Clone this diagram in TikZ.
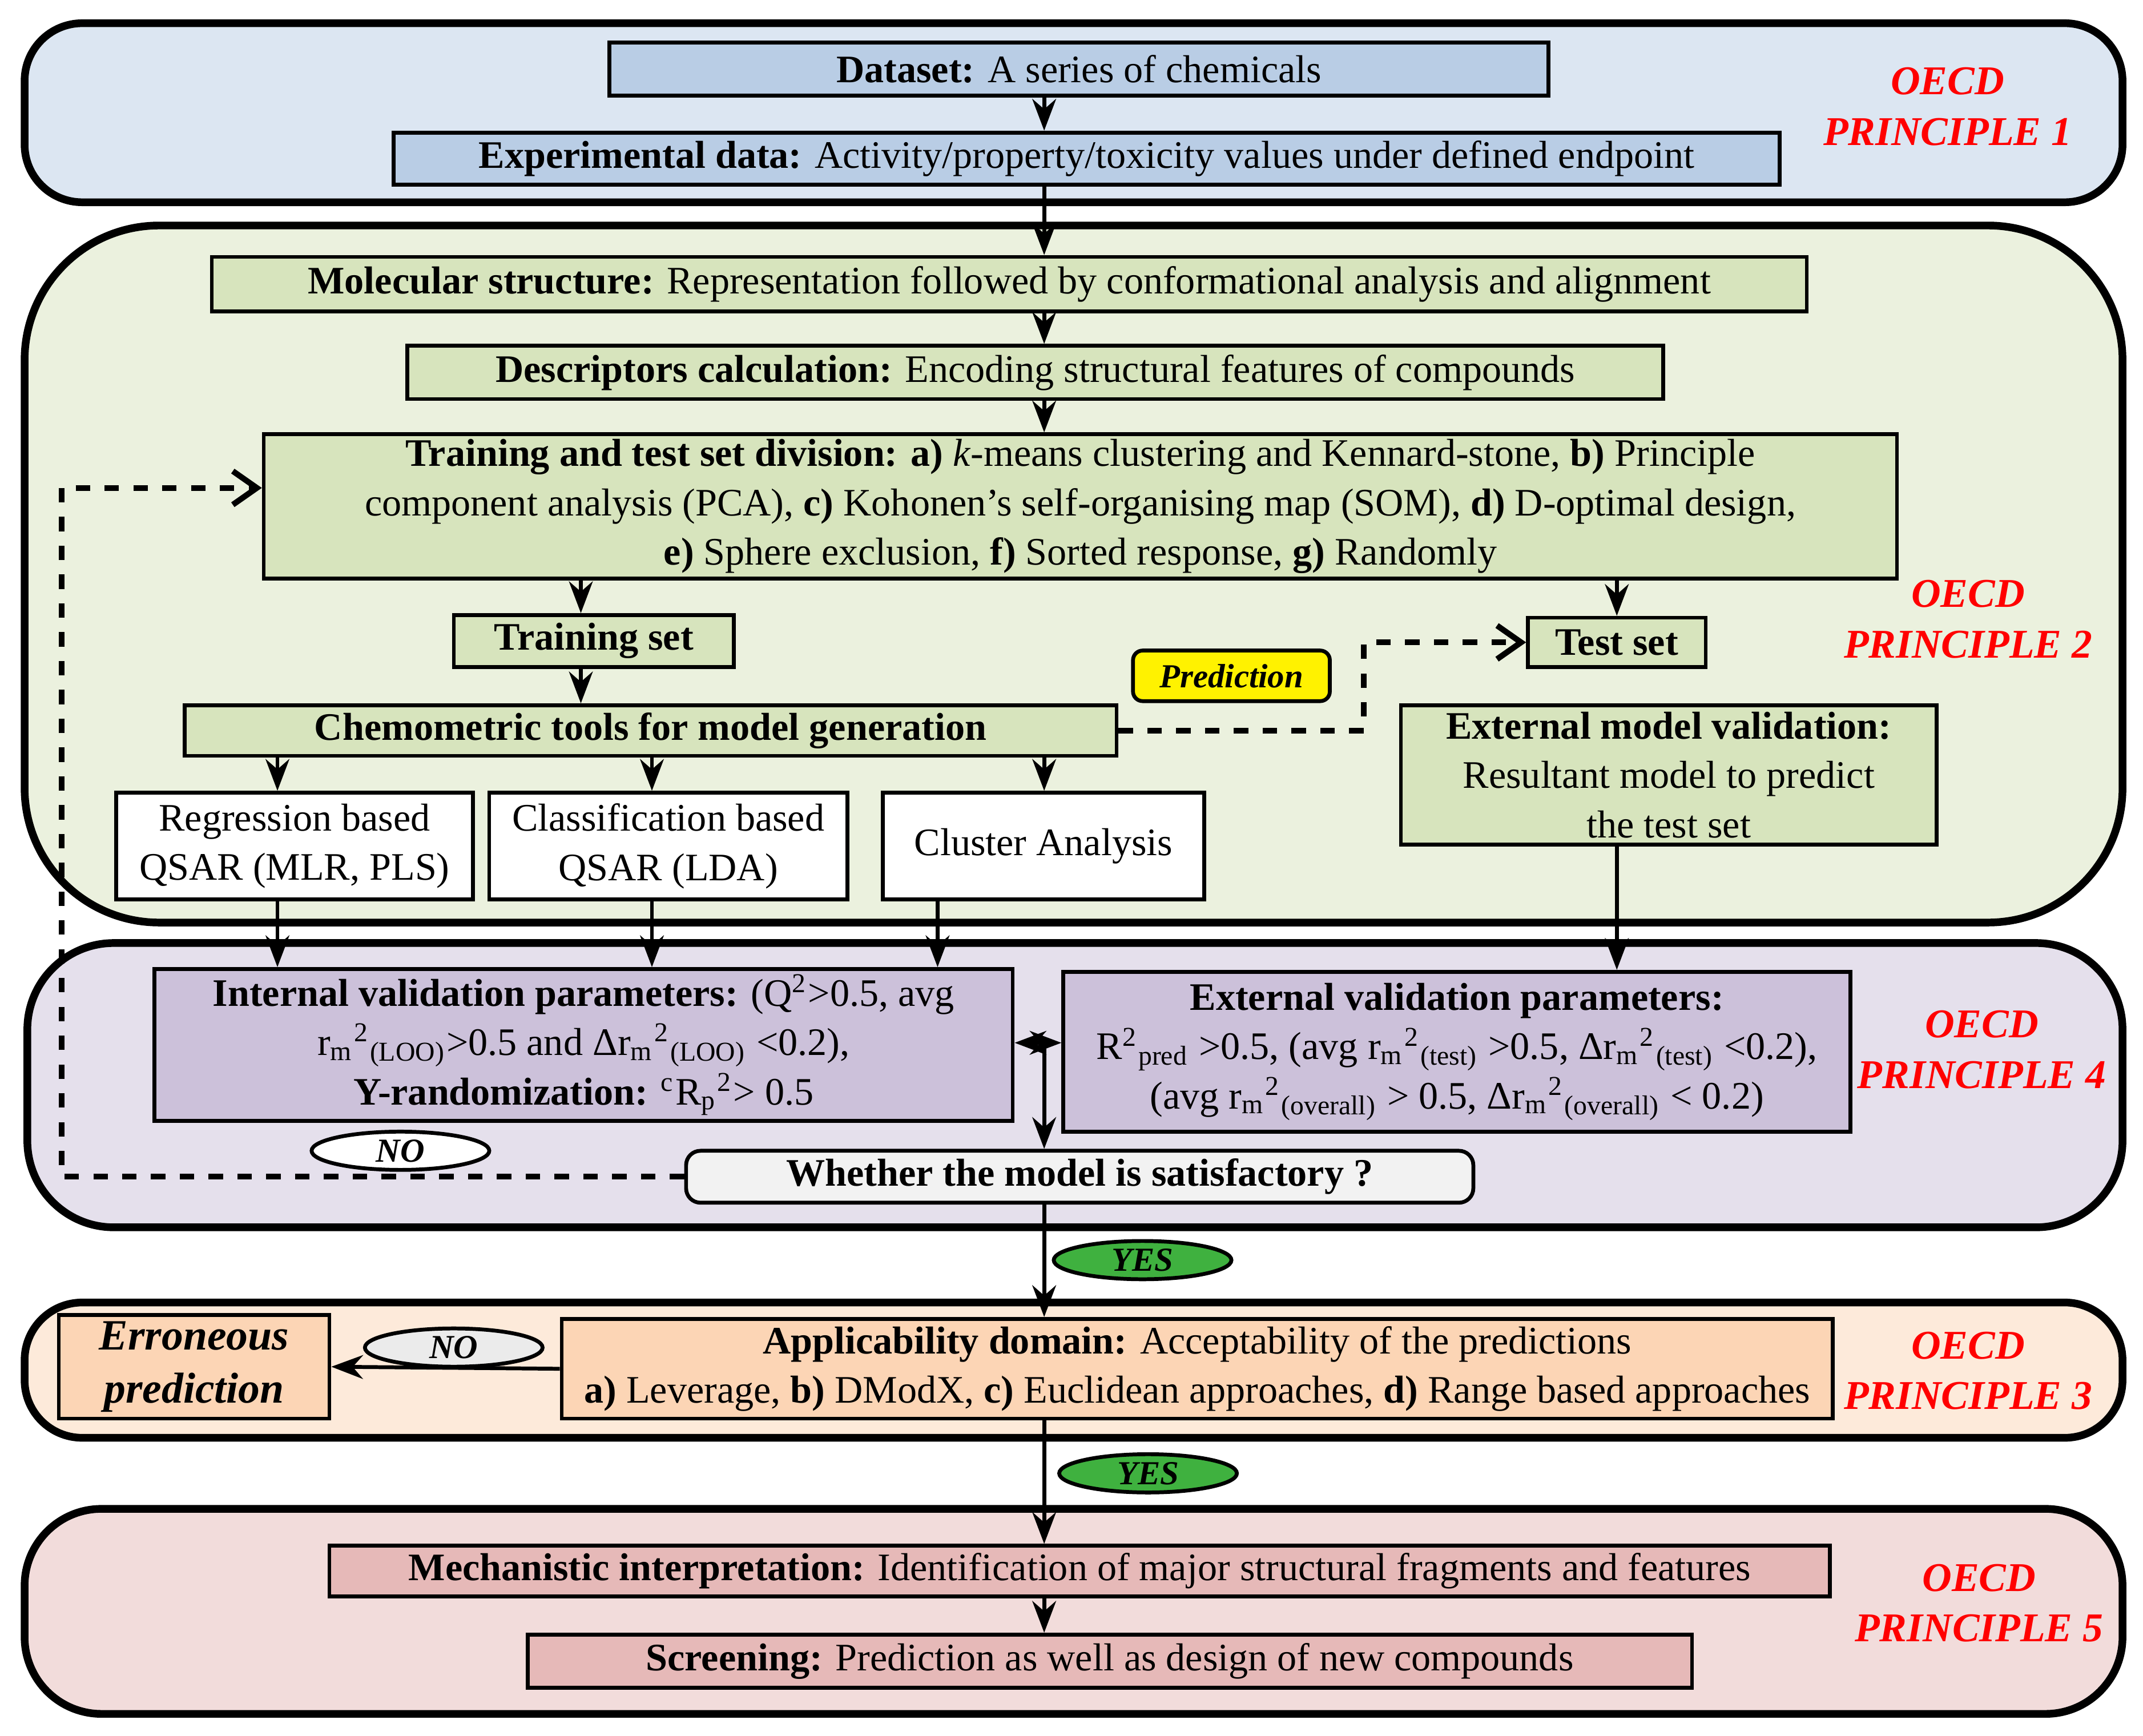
\documentclass[tikz,border=0pt]{standalone}
\usepackage{fontspec}
\setmainfont{Liberation Serif}
\usepackage{tikz}
\usetikzlibrary{arrows.meta}
\tikzset{>=Stealth}
\usetikzlibrary{positioning,shapes.geometric}
\definecolor{bluepanel}{HTML}{DCE6F2}
\definecolor{bluebox}{HTML}{B9CDE5}
\definecolor{greenpanel}{HTML}{EBF1DE}
\definecolor{greenbox}{HTML}{D7E4BD}
\definecolor{purplepanel}{HTML}{E5E0EC}
\definecolor{purplebox}{HTML}{CCC1DA}
\definecolor{peachpanel}{HTML}{FDEADA}
\definecolor{peachbox}{HTML}{FCD5B5}
\definecolor{pinkpanel}{HTML}{F2DCDB}
\definecolor{pinkbox}{HTML}{E6B9B8}
\definecolor{yesgreen}{HTML}{3FB13F}
\newcommand{\rsq}[1]{r\textsubscript{m}\textsuperscript{2}\textsubscript{(#1)}}
\tikzset{
    panel/.style={draw, line width=1.6pt, rounded corners=12pt},
    box/.style={draw, thick, inner sep=1pt, align=center, font=\fontsize{8.1}{10.3}\selectfont},
    oecd/.style={text=red, font=\fontsize{8.5}{10.5}\selectfont\bfseries\itshape, align=center},
    tag/.style={draw, thick, ellipse, inner sep=0pt, minimum width=1.3cm, minimum height=0.28cm, font=\fontsize{7}{8}\selectfont\bfseries\itshape},
    flow/.style={->, thick},
    back/.style={-{Straight Barb[length=5pt,width=7pt]}, thick, dashed, line width=1.2pt}
}
\begin{document}
\begin{tikzpicture}[]
    \useasboundingbox (0,0) rectangle (15.68,12.70);
    % panels
    \draw[panel, fill=bluepanel] (0.18,12.53) rectangle (15.53,11.22);
    \draw[panel, fill=greenpanel, rounded corners=28pt] (0.18,11.05) rectangle (15.53,5.95);
    \draw[panel, fill=purplepanel, rounded corners=18pt] (0.20,5.80) rectangle (15.53,3.72);
    \draw[panel, fill=peachpanel] (0.18,3.17) rectangle (15.53,2.18);
    \draw[panel, fill=pinkpanel, rounded corners=16pt] (0.18,1.66) rectangle (15.53,0.16);
    % principles
    \node[oecd] at (14.25,11.92) (p1) {OECD\\PRINCIPLE 1};
    \node[oecd] at (14.40,8.17) (p2) {OECD\\PRINCIPLE 2};
    \node[oecd] at (14.50,5.02) (p4) {OECD\\PRINCIPLE 4};
    \node[oecd] at (14.40,2.67) (p3) {OECD\\PRINCIPLE 3};
    \node[oecd] at (14.48,0.97) (p5) {OECD\\PRINCIPLE 5};
    % boxes
    \node[box, fill=bluebox, minimum width=6.87cm, minimum height=0.39cm] at (7.895,12.195) (dataset) {\textbf{Dataset:} A series of chemicals};
    \node[box, fill=bluebox, minimum width=10.14cm, minimum height=0.38cm] at (7.95,11.54) (expdata) {\textbf{Experimental data:} Activity/property/toxicity values under defined endpoint};
    \node[box, fill=greenbox, minimum width=11.67cm, minimum height=0.40cm] at (7.385,10.62) (molstruct) {\textbf{Molecular structure:} Representation followed by conformational analysis and alignment};
    \node[box, fill=greenbox, minimum width=9.19cm, minimum height=0.39cm] at (7.575,9.975) (descr) {\textbf{Descriptors calculation:} Encoding structural features of compounds};
    \node[box, fill=greenbox, minimum width=11.95cm, minimum height=1.05cm] at (7.905,8.995) (division) {\textbf{Training and test set division: a)} \textit{k}-means clustering and Kennard-stone, \textbf{b)} Principle\\component analysis (PCA), \textbf{c)} Kohonen's self-organising map (SOM), \textbf{d)} D-optimal design,\\\textbf{e)} Sphere exclusion, \textbf{f)} Sorted response, \textbf{g)} Randomly};
    \node[box, fill=greenbox, minimum width=2.05cm, minimum height=0.38cm] at (4.345,8.01) (trainset) {\textbf{Training set}};
    \node[box, fill=greenbox, minimum width=1.30cm, minimum height=0.36cm] at (11.83,8.00) (testset) {\textbf{Test set}};
    \node[box, fill=greenbox, minimum width=6.82cm, minimum height=0.37cm] at (4.76,7.355) (chemo) {\textbf{Chemometric tools for model generation}};
    \node[box, fill=yellow, rounded corners=2pt, minimum width=1.44cm, minimum height=0.37cm, font=\fontsize{7}{8}\selectfont\bfseries\itshape] at (9.01,7.755) (predict) {Prediction};
    \node[box, fill=greenbox, minimum width=3.92cm, minimum height=1.02cm] at (12.21,7.03) (extmodel) {\textbf{External model validation:}\\Resultant model to predict\\the test set};
    \node[box, fill=white, minimum width=2.61cm, minimum height=0.78cm] at (2.155,6.51) (regress) {Regression based\\QSAR (MLR, PLS)};
    \node[box, fill=white, minimum width=2.62cm, minimum height=0.78cm] at (4.89,6.51) (classif) {Classification based\\QSAR (LDA)};
    \node[box, fill=white, minimum width=2.35cm, minimum height=0.78cm] at (7.635,6.51) (cluster) {Cluster Analysis};
    \node[box, fill=purplebox, minimum width=6.28cm, minimum height=1.11cm] at (4.27,5.055) (intval) {\textbf{Internal validation parameters:} (Q\textsuperscript{2}>0.5, avg\\\rsq{LOO}>0.5 and Δ\rsq{LOO} <0.2),\\\textbf{Y-randomization:} \textsuperscript{c}R\textsubscript{p}\textsuperscript{2}> 0.5};
    \node[box, fill=purplebox, minimum width=5.76cm, minimum height=1.17cm] at (10.66,5.005) (extval) {\textbf{External validation parameters:}\\R\textsuperscript{2}\textsubscript{pred} >0.5, (avg \rsq{test} >0.5, Δ\rsq{test} <0.2),\\(avg \rsq{overall} > 0.5, Δ\rsq{overall} < 0.2)};
    \node[box, fill=white!95!black, rounded corners=3pt, minimum width=5.76cm, minimum height=0.38cm] at (7.90,4.09) (whether) {\textbf{Whether the model is satisfactory ?}};
    \node[box, fill=peachbox, minimum width=1.98cm, minimum height=0.76cm, font=\fontsize{9}{11}\selectfont\bfseries\itshape] at (1.42,2.70) (erroneous) {Erroneous\\prediction};
    \node[box, fill=peachbox, minimum width=9.30cm, minimum height=0.73cm] at (8.76,2.685) (applic) {\textbf{Applicability domain:} Acceptability of the predictions\\\textbf{a)} Leverage, \textbf{b)} DModX, \textbf{c)} Euclidean approaches, \textbf{d)} Range based approaches};
    \node[box, fill=pinkbox, minimum width=10.98cm, minimum height=0.37cm] at (7.90,1.205) (mechan) {\textbf{Mechanistic interpretation:} Identification of major structural fragments and features};
    \node[box, fill=pinkbox, minimum width=8.52cm, minimum height=0.39cm] at (8.12,0.545) (screen) {\textbf{Screening:} Prediction as well as design of new compounds};
    % tags
    \node[tag, fill=white] at (2.93,4.28) (no1) {NO};
    \node[tag, fill=yesgreen] at (8.36,3.48) (yes1) {YES};
    \node[tag, fill=white!92!black] at (3.32,2.84) (no2) {NO};
    \node[tag, fill=yesgreen] at (8.40,1.92) (yes2) {YES};
    % guide coordinates
    \coordinate (spine) at (7.64,0);
    \coordinate (xtrain) at (4.25,0);
    \coordinate (xreg) at (2.03,0);
    \coordinate (xcls) at (4.77,0);
    \coordinate (xclu) at (6.86,0);
    \coordinate (xpred) at (9.98,0);
    \coordinate (xfb) at (0.45,0);
    \coordinate (yfb) at (0,9.13);
    \coordinate (ymid) at (0,5.07);
    % connectors
    \draw[flow] (dataset.south -| spine) -- (expdata.north -| spine);
    \draw[flow] (expdata.south -| spine) -- (molstruct.north -| spine);
    \draw[flow] (molstruct.south -| spine) -- (descr.north -| spine);
    \draw[flow] (descr.south -| spine) -- (division.north -| spine);
    \draw[flow] (division.south -| xtrain) -- (trainset.north -| xtrain);
    \draw[flow] (division.south -| testset) -- (testset.north);
    \draw[flow] (trainset.south -| xtrain) -- (chemo.north -| xtrain);
    \draw[flow] (chemo.south -| xreg) -- (regress.north -| xreg);
    \draw[flow] (chemo.south -| xcls) -- (classif.north -| xcls);
    \draw[flow] (chemo.south -| spine) -- (cluster.north -| spine);
    \draw[flow] (regress.south -| xreg) -- (intval.north -| xreg);
    \draw[flow] (classif.south -| xcls) -- (intval.north -| xcls);
    \draw[flow] (cluster.south -| xclu) -- (intval.north -| xclu);
    \draw[flow] (extmodel.south -| testset) -- (extval.north -| testset);
    \draw[<->, thick] (intval.east |- ymid) -- (extval.west |- ymid);
    \draw[flow] (spine |- ymid) -- (whether.north -| spine);
    \draw[flow] (whether.south -| spine) -- (applic.north -| spine);
    \draw[flow] (applic.west) -- (erroneous.east);
    \draw[flow] (applic.south -| spine) -- (mechan.north -| spine);
    \draw[flow] (mechan.south -| spine) -- (screen.north -| spine);
    \draw[back] (chemo.east) -- (chemo.east -| xpred) |- (testset.west);
    \draw[back] (whether.west) -- (whether.west -| xfb) -- (xfb |- yfb) -- (division.west |- yfb);
\end{tikzpicture}
\end{document}
